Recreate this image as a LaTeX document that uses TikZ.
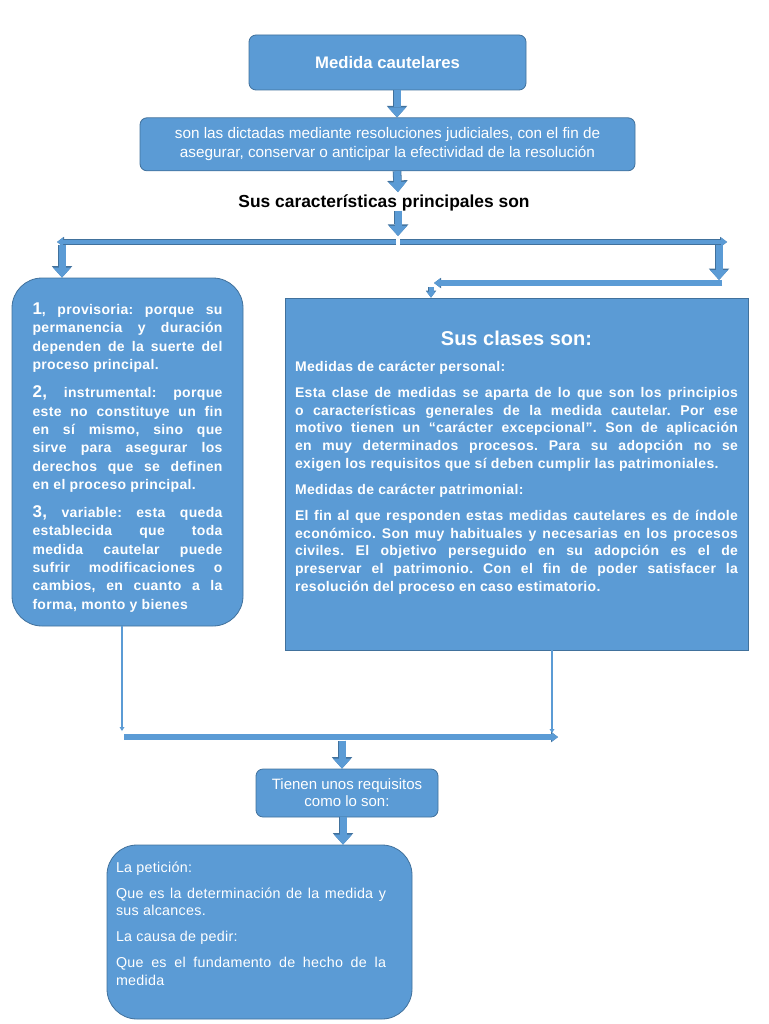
\documentclass[tikz,border=0pt]{standalone}
\usepackage{fontspec}
\setmainfont{Liberation Sans}
\newfontfamily\spacedfont[LetterSpace=2.5]{Liberation Sans}
\newfontfamily\lightspaced[LetterSpace=2]{Liberation Sans}
\usetikzlibrary{arrows.meta,positioning}
\definecolor{boxblue}{HTML}{5B9BD5}
\definecolor{boxline}{HTML}{41719C}
\frenchspacing
\tikzset{
	box/.style={draw=boxline, fill=boxblue, text=white, line width=0.8pt, align=center},
	fatarrow/.style={draw=boxblue, line width=7pt, -{Triangle[width=18pt,length=10pt,line width=0pt]},
		preaction={draw=boxline, line width=8.6pt, -{Triangle[width=20.5pt,length=11.5pt,line width=0pt]}}},
	bararrow/.style={draw=boxblue, line width=4.5pt, -{Triangle[width=9pt,length=6pt,line width=0pt]},
		preaction={draw=boxline, line width=5.5pt, -{Triangle[width=10.5pt,length=7pt,line width=0pt]}}},
	thinarrow/.style={draw=boxblue, line width=2pt, -{Triangle[width=5pt,length=4pt,line width=0pt]}}
}

\begin{document}
\begin{tikzpicture}[x=1pt, y=-1pt,
			roundbox/.style={box, rounded corners=7pt},
			bigbox/.style={box, rounded corners=30pt, inner ysep=0pt},
			]
			\useasboundingbox (0,0) rectangle (768,1024);
			
			%% -- Title and definition
			\node[roundbox, minimum width=277pt, minimum height=55pt,
			font=\fontsize{16.7}{20}\selectfont\bfseries] (title) at (387.5,62.5) {Medida cautelares};
			
			\node[roundbox, minimum width=495pt, minimum height=53pt,
			font=\fontsize{15.3}{19}\selectfont, below=27pt of title] (defn)
			{son las dictadas mediante resoluciones judiciales, con el fin de\\
				asegurar, conservar o anticipar la efectividad de la resolución};
			
			\node[font=\fontsize{17.4}{20}\selectfont\bfseries, inner sep=0pt,
			text height=12pt, text depth=3.5pt] (heading) at (384,203)
			{Sus características principales son};
			
			%% -- Characteristics (left)
			\node[bigbox, inner xsep=20.5pt] (rasgos) at (127.5,452)
			{\parbox[c][348pt][t]{190pt}{\spacedfont\bfseries\fontsize{14}{18.3}\selectfont
					\parskip=10pt\vspace*{15pt}%
					{\fontsize{17}{18.3}\selectfont 1}, provisoria: porque su\linebreak
					permanencia y duración\linebreak
					dependen de la suerte del\linebreak
					proceso principal.\par
					{\fontsize{17}{18.3}\selectfont 2,} instrumental: porque\linebreak
					este no constituye un fin\linebreak
					en sí mismo, sino que\linebreak
					sirve para asegurar los\linebreak
					derechos que se definen\linebreak
					en el proceso principal.\par
					{\fontsize{17}{18.3}\selectfont 3,} variable: esta queda\linebreak
					establecida que toda\linebreak
					medida cautelar puede\linebreak
					sufrir modificaciones o\linebreak
					cambios, en cuanto a la\linebreak
					forma, monto y bienes}};
			
			%% -- Classes (right)
			\node[box, inner xsep=10pt, inner ysep=0pt] (clases) at (516.5,474)
			{\parbox[c][352pt][t]{443pt}{\spacedfont\bfseries\fontsize{14}{17.6}\selectfont
					\parskip=8.7pt\vspace*{24pt}%
					{\centering\normalfont\bfseries\fontsize{20}{24}\selectfont Sus clases son:\par}
					Medidas de carácter personal:\par
					Esta clase de medidas se aparta de lo que son los principios\linebreak
					o características generales de la medida cautelar. Por ese\linebreak
					motivo tienen un “carácter excepcional”. Son de aplicación\linebreak
					en muy determinados procesos. Para su adopción no se\linebreak
					exigen los requisitos que sí deben cumplir las patrimoniales.\par
					Medidas de carácter patrimonial:\par
					El fin al que responden estas medidas cautelares es de índole\linebreak
					económico. Son muy habituales y necesarias en los procesos\linebreak
					civiles. El objetivo perseguido en su adopción es el de\linebreak
					preservar el patrimonio. Con el fin de poder satisfacer la\linebreak
					resolución del proceso en caso estimatorio.}};
			
			%% -- Requirements
			\node[roundbox, minimum width=182pt, minimum height=48pt,
			font=\fontsize{15}{17}\selectfont] (requisitos) at (347,793)
			{Tienen unos requisitos\\como lo son:};
			
			\node[bigbox, inner xsep=9pt] (peticion) at (259.5,932)
			{\parbox[c][174pt][t]{287pt}{\lightspaced\fontsize{14.3}{17.5}\selectfont
					\rightskip=17pt\parskip=8.5pt\vspace*{8pt}%
					La petición:\par
					Que es la determinación de la medida y\linebreak
					sus alcances.\par
					La causa de pedir:\par
					Que es el fundamento de hecho de la\linebreak
					medida}};
			
			%% -- Junction points
			\coordinate (fork) at (398,236);
			\coordinate (forkL) at (396,242);
			\coordinate (forkR) at (400,242);
			\coordinate (endL) at (57,242);
			\coordinate (endR) at (727,242);
			\coordinate (dropL) at (62,244.5);
			\coordinate (dropR) at (719,245);
			\coordinate (bendR) at (719,280);
			\coordinate (backR) at (722,283);
			\coordinate (backL) at (434,283);
			\coordinate (turn) at (431,287);
			\coordinate (joinL) at (122,731);
			\coordinate (joinR) at (552,733);
			\coordinate (mergeL) at (124,737);
			\coordinate (mergeR) at (558,737);
			\coordinate (merge) at (342,740.5);
			
			%% -- Top arrows
			\draw[fatarrow] ([xshift=9.5pt]title.south) -- ([xshift=9.5pt]defn.north);
			\draw[fatarrow] ([xshift=9.5pt]defn.south) -- ([xshift=14pt,yshift=3pt]heading.north);
			\draw[fatarrow] ([xshift=14pt]heading.south) -- (fork);
			\draw[bararrow] (forkL) -- (endL);
			\draw[bararrow] (forkR) -- (endR);
			\draw[fatarrow] (dropL) -- ([xshift=-65.5pt]rasgos.north);
			\draw[fatarrow] (dropR) -- (bendR);
			\draw[bararrow, line width=6pt] (backR) -- (backL);
			\draw[bararrow, line width=5pt] (turn) -- ([xshift=-85.5pt]clases.north);
			
			%% -- Bottom arrows
			\draw[thinarrow] ([xshift=-5.5pt]rasgos.south) -- (joinL);
			\draw[thinarrow] ([xshift=35.5pt]clases.south) -- (joinR);
			\draw[bararrow, line width=6pt] (mergeL) -- (mergeR);
			\draw[fatarrow] (merge) -- ([xshift=-5pt]requisitos.north);
			\draw[fatarrow] ([xshift=-4pt]requisitos.south) -- ([xshift=83.5pt]peticion.north);
			
		\end{tikzpicture}
\end{document}
